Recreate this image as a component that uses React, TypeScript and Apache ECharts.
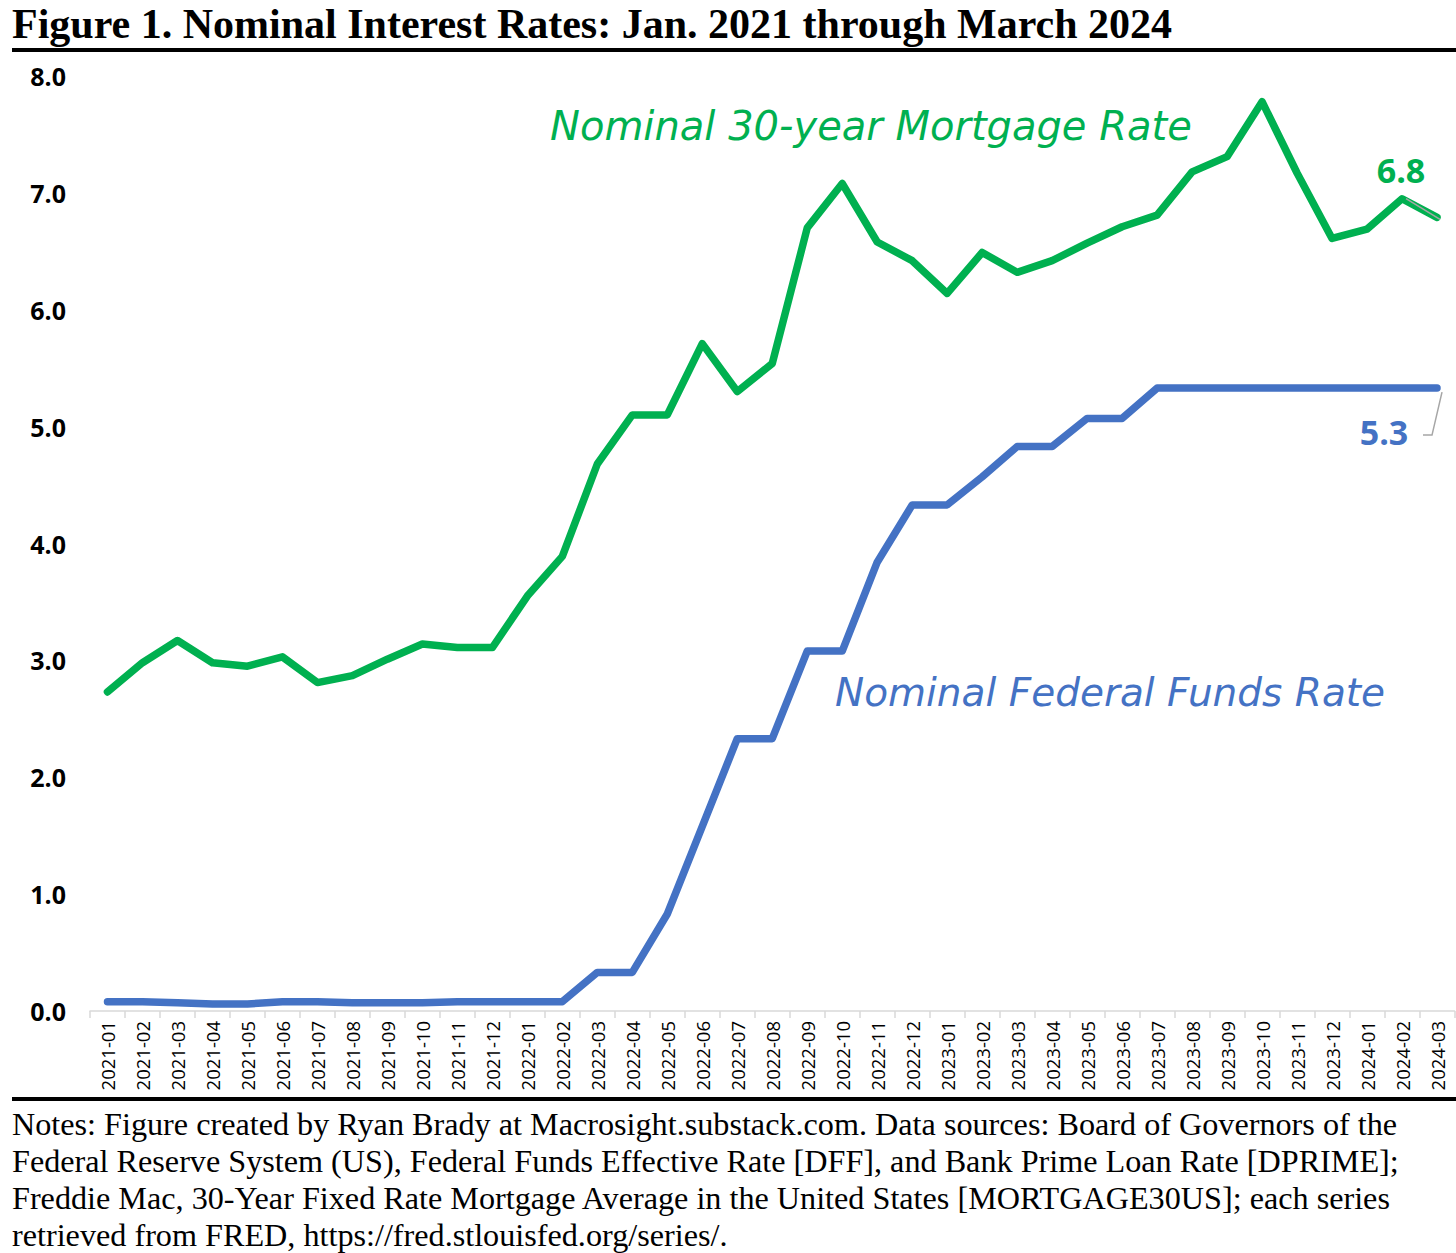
import React, { useEffect, useRef } from "react";
import * as echarts from "echarts";

const categories = [
  "2021-01","2021-02","2021-03","2021-04","2021-05","2021-06","2021-07","2021-08","2021-09","2021-10","2021-11","2021-12",
  "2022-01","2022-02","2022-03","2022-04","2022-05","2022-06","2022-07","2022-08","2022-09","2022-10","2022-11","2022-12",
  "2023-01","2023-02","2023-03","2023-04","2023-05","2023-06","2023-07","2023-08","2023-09","2023-10","2023-11","2023-12",
  "2024-01","2024-02","2024-03",
];

const mortgageRate = [
  2.73, 2.98, 3.17, 2.98, 2.95, 3.03, 2.81, 2.87, 3.01, 3.14, 3.11, 3.11,
  3.55, 3.89, 4.68, 5.10, 5.10, 5.71, 5.30, 5.54, 6.70, 7.08, 6.58, 6.42,
  6.14, 6.49, 6.32, 6.42, 6.57, 6.71, 6.81, 7.18, 7.31, 7.78, 7.17, 6.61,
  6.69, 6.95, 6.79,
];

const fedFundsRate = [
  0.08, 0.08, 0.07, 0.06, 0.06, 0.08, 0.08, 0.07, 0.07, 0.07, 0.08, 0.08,
  0.08, 0.08, 0.33, 0.33, 0.83, 1.58, 2.33, 2.33, 3.08, 3.08, 3.84, 4.33,
  4.33, 4.57, 4.83, 4.83, 5.07, 5.07, 5.33, 5.33, 5.33, 5.33, 5.33, 5.33,
  5.33, 5.33, 5.33,
];

const yTicks = { min: 0, max: 8, interval: 1 };

const titleText = "Figure 1. Nominal Interest Rates: Jan. 2021 through March 2024";
const notesLines = [
  "Notes: Figure created by Ryan Brady at Macrosight.substack.com. Data sources: Board of Governors of the",
  "Federal Reserve System (US), Federal Funds Effective Rate [DFF], and Bank Prime Loan Rate [DPRIME];",
  "Freddie Mac, 30-Year Fixed Rate Mortgage Average in the United States [MORTGAGE30US]; each series",
  "retrieved from FRED, https://fred.stlouisfed.org/series/.",
];

const GREEN = "#00B050";
const BLUE = "#4472C4";
const LEADER = "#A6A6A6";

export default function App() {
  const ref = useRef<HTMLDivElement>(null);
  useEffect(() => {
    if (!ref.current) return;
    const chart = echarts.init(ref.current, null, { renderer: "svg" });
    const lastIdx = categories.length - 1;

    const notesGraphics = notesLines.map((line, i) => ({
      type: "text",
      left: 12,
      top: 1108 + i * 37,
      style: {
        text: line,
        font: "32.2px 'Liberation Serif'",
        fill: "#000",
      },
    }));

    const endLabelBase = {
      show: true,
      formatter: (p: any) => Number(p.value).toFixed(1),
      fontSize: 34,
      fontWeight: "bold",
      fontFamily: "Open Sans",
      align: "center",
      verticalAlign: "middle",
      distance: 0,
    };

    const baseOption: any = {
      animation: false,
      backgroundColor: "#fff",
      grid: { left: 90, right: 1.5, top: 76, bottom: 242 },
      xAxis: {
        type: "category",
        data: categories,
        boundaryGap: true,
        axisLine: { lineStyle: { color: "#D9D9D9", width: 1.5 } },
        axisTick: { show: true, alignWithLabel: false, length: 7, lineStyle: { color: "#D9D9D9", width: 1.5 } },
        axisLabel: {
          interval: 0,
          rotate: 90,
          color: "#000",
          fontSize: 18.5,
          fontFamily: "Open Sans",
          margin: 10,
        },
        splitLine: { show: false },
      },
      yAxis: {
        type: "value",
        min: yTicks.min,
        max: yTicks.max,
        interval: yTicks.interval,
        axisLine: { show: false },
        axisTick: { show: false },
        splitLine: { show: false },
        axisLabel: {
          formatter: (v: number) => v.toFixed(1),
          color: "#000",
          fontSize: 25,
          fontWeight: "bold",
          fontFamily: "Open Sans",
          margin: 24,
        },
      },
      series: [
        {
          name: "Nominal 30-year Mortgage Rate",
          type: "line",
          data: mortgageRate,
          showSymbol: false,
          symbol: "none",
          lineStyle: { color: GREEN, width: 7.5, join: "round", cap: "round" },
          itemStyle: { color: GREEN },
          endLabel: { ...endLabelBase, color: GREEN, position: "inside", offset: [-36, -47] },
          z: 3,
        },
        {
          name: "Nominal Federal Funds Rate",
          type: "line",
          data: fedFundsRate,
          showSymbol: false,
          symbol: "none",
          lineStyle: { color: BLUE, width: 7.5, join: "round", cap: "round" },
          itemStyle: { color: BLUE },
          endLabel: { ...endLabelBase, color: BLUE, position: "inside", offset: [-53, 44] },
          z: 2,
        },
      ],
    };

    const staticGraphics: any[] = [
      {
        type: "text",
        left: 12,
        top: 3,
        style: {
          text: titleText,
          font: "bold 42px 'Liberation Serif'",
          fill: "#000",
        },
      },
      {
        type: "rect",
        shape: { x: 12, y: 48, width: 1444, height: 4 },
        style: { fill: "#000" },
      },
      {
        type: "rect",
        shape: { x: 12, y: 1097, width: 1444, height: 4 },
        style: { fill: "#000" },
      },
      {
        type: "text",
        left: 550,
        top: 106,
        style: {
          text: "Nominal 30-year Mortgage Rate",
          font: "oblique 40px 'DejaVu Sans'",
          fill: GREEN,
        },
      },
      {
        type: "text",
        left: 835,
        top: 673,
        style: {
          text: "Nominal Federal Funds Rate",
          font: "oblique 39px 'DejaVu Sans'",
          fill: BLUE,
        },
      },
      ...notesGraphics,
    ];

    chart.setOption({ ...baseOption, graphic: staticGraphics });

    // leader lines derived from the chart's own scales
    const toPx = (i: number, v: number) =>
      chart.convertToPixel({ xAxisIndex: 0, yAxisIndex: 0 }, [i, v]) as number[];
    const gLast = toPx(lastIdx, mortgageRate[lastIdx]);
    const gPrev = toPx(lastIdx - 1, mortgageRate[lastIdx - 1]);
    const bLast = toPx(lastIdx, fedFundsRate[lastIdx]);
    const leaders = [
      {
        type: "polyline",
        shape: { points: [[gPrev[0] + 4, gPrev[1]], [gLast[0] + 3, gLast[1] + 2]] },
        style: { stroke: LEADER, lineWidth: 1.5, fill: "none" },
        z: 100,
      },
      {
        type: "polyline",
        shape: {
          points: [
            [bLast[0] + 5, bLast[1] + 4],
            [bLast[0] - 5, bLast[1] + 47],
            [bLast[0] - 14, bLast[1] + 47],
          ],
        },
        style: { stroke: LEADER, lineWidth: 1.5, fill: "none" },
        z: 100,
      },
    ];
    chart.setOption({ graphic: [...staticGraphics, ...leaders] }, { replaceMerge: ["graphic"] });

    return () => chart.dispose();
  }, []);

  return (
    <div
      ref={ref}
      style={{ position: "absolute", left: 0, top: 0, width: 1456, height: 1253 }}
    />
  );
}
